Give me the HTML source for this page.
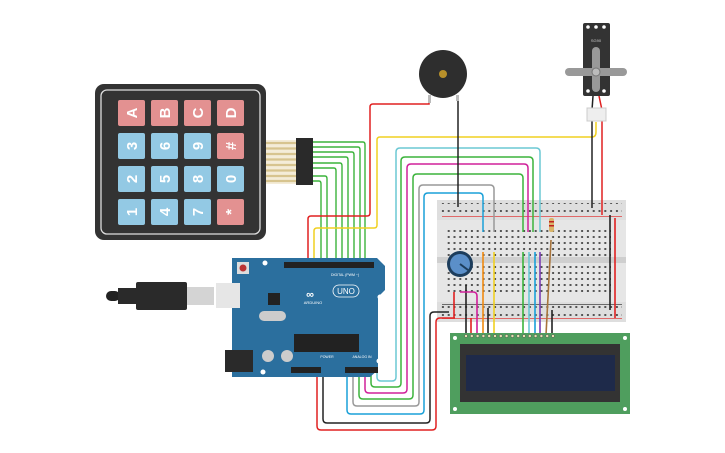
<!DOCTYPE html>
<html><head><meta charset="utf-8"><style>
html,body{margin:0;padding:0;background:#fff;width:725px;height:453px;overflow:hidden}
svg{display:block}
.k{font-family:"Liberation Sans",sans-serif;font-weight:bold;font-size:15px;fill:#fff}
</style></head><body>
<svg width="725" height="453" viewBox="0 0 725 453" xmlns="http://www.w3.org/2000/svg">
<defs>
<pattern id="h" x="440.5" y="0" width="5.8" height="6" patternUnits="userSpaceOnUse">
<rect x="1.4" y="2" width="2" height="2" fill="#555"/>
</pattern>
<pattern id="hr" x="440.5" y="0" width="5.8" height="8" patternUnits="userSpaceOnUse">
<rect x="1.4" y="2" width="2" height="2" fill="#555"/>
</pattern>
</defs>

<!-- Keypad -->
<rect x="95" y="84" width="171" height="156" rx="9" fill="#333"/>
<rect x="101" y="90" width="159" height="144" rx="6" fill="none" stroke="#ddd" stroke-width="1.3"/>
<g>
<rect x="118" y="100" width="27" height="26" rx="2" fill="#e39191"/>
<rect x="151" y="100" width="27" height="26" rx="2" fill="#e39191"/>
<rect x="184" y="100" width="27" height="26" rx="2" fill="#e39191"/>
<rect x="217" y="100" width="27" height="26" rx="2" fill="#e39191"/>
<rect x="118" y="133" width="27" height="26" rx="2" fill="#93c9e4"/>
<rect x="151" y="133" width="27" height="26" rx="2" fill="#93c9e4"/>
<rect x="184" y="133" width="27" height="26" rx="2" fill="#93c9e4"/>
<rect x="217" y="133" width="27" height="26" rx="2" fill="#e39191"/>
<rect x="118" y="166" width="27" height="26" rx="2" fill="#93c9e4"/>
<rect x="151" y="166" width="27" height="26" rx="2" fill="#93c9e4"/>
<rect x="184" y="166" width="27" height="26" rx="2" fill="#93c9e4"/>
<rect x="217" y="166" width="27" height="26" rx="2" fill="#93c9e4"/>
<rect x="118" y="199" width="27" height="26" rx="2" fill="#93c9e4"/>
<rect x="151" y="199" width="27" height="26" rx="2" fill="#93c9e4"/>
<rect x="184" y="199" width="27" height="26" rx="2" fill="#93c9e4"/>
<rect x="217" y="199" width="27" height="26" rx="2" fill="#e39191"/>
</g>
<g class="k" text-anchor="middle">
<text transform="translate(137,113) rotate(-90)">A</text>
<text transform="translate(170,113) rotate(-90)">B</text>
<text transform="translate(203,113) rotate(-90)">C</text>
<text transform="translate(236,113) rotate(-90)">D</text>
<text transform="translate(137,146) rotate(-90)">3</text>
<text transform="translate(170,146) rotate(-90)">6</text>
<text transform="translate(203,146) rotate(-90)">9</text>
<text transform="translate(236,146) rotate(-90)">#</text>
<text transform="translate(137,179) rotate(-90)">2</text>
<text transform="translate(170,179) rotate(-90)">5</text>
<text transform="translate(203,179) rotate(-90)">8</text>
<text transform="translate(236,179) rotate(-90)">0</text>
<text transform="translate(137,212) rotate(-90)">1</text>
<text transform="translate(170,212) rotate(-90)">4</text>
<text transform="translate(203,212) rotate(-90)">7</text>
<text transform="translate(236,212) rotate(-90)">*</text>
</g>
<!-- ribbon -->
<rect x="266" y="140" width="31" height="44" fill="#f4ecd8"/>
<g stroke="#d7c48f" stroke-width="2.2">
<line x1="266" y1="143" x2="297" y2="143"/><line x1="266" y1="148.5" x2="297" y2="148.5"/>
<line x1="266" y1="154" x2="297" y2="154"/><line x1="266" y1="159.5" x2="297" y2="159.5"/>
<line x1="266" y1="165" x2="297" y2="165"/><line x1="266" y1="170.5" x2="297" y2="170.5"/>
<line x1="266" y1="176" x2="297" y2="176"/><line x1="266" y1="181" x2="297" y2="181"/>
</g>
<rect x="296" y="138" width="17" height="47" fill="#2a2a2a"/>

<!-- keypad green wires -->
<g fill="none" stroke="#3cb43c" stroke-width="1.4" stroke-linejoin="round">
<path d="M313 142 H363 Q365 142 365 145 V262"/>
<path d="M313 147 H358 Q360 147 360 150 V262"/>
<path d="M313 152 H352 Q354 152 354 155 V262"/>
<path d="M313 157 H346 Q348 157 348 160 V262"/>
<path d="M313 163 H340 Q342 163 342 166 V262"/>
<path d="M313 168 H334 Q336 168 336 171 V262"/>
<path d="M313 176 H325 Q327 176 327 179 V262"/>
<path d="M313 181 H319 Q321 181 321 184 V262"/>
</g>
<!-- red buzzer wire -->
<path d="M308 262 V219 Q308 216 311 216 H367 Q370 216 370 213 V107 Q370 104 373 104 H429 V95" fill="none" stroke="#e02020" stroke-width="1.5"/>
<!-- yellow servo wire -->
<path d="M314 262 V231 Q314 228 317 228 H374 Q377 228 377 225 V140 Q377 137 380 137 H592 Q596 137 596 132 V122" fill="none" stroke="#f0d020" stroke-width="1.5"/>

<!-- breadboard -->
<rect x="437" y="200" width="189" height="122" fill="#e6e6e6"/>
<rect x="437" y="200" width="189" height="20" fill="#dedede"/>
<rect x="437" y="302" width="189" height="20" fill="#dedede"/>
<rect x="437" y="257" width="189" height="6" fill="#cfcfcf"/>
<rect x="440" y="203" width="182" height="12" fill="url(#hr)"/>
<line x1="442" y1="216.5" x2="622" y2="216.5" stroke="#e04040" stroke-width="0.8"/>
<line x1="442" y1="304.5" x2="622" y2="304.5" stroke="#444" stroke-width="0.8"/>
<rect x="440" y="306" width="182" height="12" fill="url(#hr)"/>
<line x1="442" y1="318.5" x2="622" y2="318.5" stroke="#e04040" stroke-width="0.8"/>
<rect x="446" y="226" width="165" height="30" fill="url(#h)"/>
<rect x="446" y="264" width="165" height="30" fill="url(#h)"/>

<!-- arduino analog wires -->
<g fill="none" stroke-width="1.5" stroke-linejoin="round">
<path d="M347 372 V410 Q347 414 351 414 H420 Q424 414 424 410 V197 Q424 193 428 193 H479 Q483 193 483 197 V232" stroke="#1aa0d8"/>
<path d="M353 372 V402 Q353 406 357 406 H415 Q419 406 419 402 V189 Q419 185 423 185 H490 Q494 185 494 189 V232" stroke="#999"/>
<path d="M359 372 V395 Q359 399 363 399 H409 Q413 399 413 395 V178 Q413 174 417 174 H519 Q523 174 523 178 V232" stroke="#3cb43c"/>
<path d="M365 372 V389 Q365 393 369 393 H403 Q407 393 407 389 V168 Q407 164 411 164 H524 Q528 164 528 168 V232" stroke="#d0209a"/>
<path d="M371 372 V383 Q371 387 375 387 H397 Q401 387 401 383 V161 Q401 157 405 157 H529 Q533 157 533 161 V232" stroke="#3cb43c"/>
<path d="M377 372 V377 Q377 381 381 381 H392 Q396 381 396 377 V152 Q396 148 400 148 H536 Q540 148 540 152 V232" stroke="#6cc8d4"/>
<path d="M323 372 V419 Q323 423 327 423 H426 Q430 423 430 419 V316 Q430 312 434 312 H449" stroke="#222"/>
<path d="M317 372 V426 Q317 430 321 430 H432 Q436 430 436 426 V322 Q436 318 440 318 H455" stroke="#e02020"/>
</g>

<!-- buzzer -->
<line x1="458" y1="95" x2="458" y2="207" stroke="#222" stroke-width="1.5"/>
<circle cx="443" cy="74" r="24" fill="#2e2e2e"/>
<circle cx="443" cy="74" r="4" fill="#b8902a"/>
<rect x="428" y="95" width="3" height="8" fill="#bbb"/><rect x="456" y="95" width="3" height="6" fill="#bbb"/>

<!-- servo -->
<line x1="592" y1="118" x2="592" y2="208" stroke="#222" stroke-width="1.5"/>
<line x1="602" y1="118" x2="602" y2="215" stroke="#e02020" stroke-width="1.5"/>
<line x1="593" y1="96" x2="592" y2="110" stroke="#222" stroke-width="1.5"/>
<line x1="599" y1="96" x2="602" y2="110" stroke="#e02020" stroke-width="1.5"/>
<rect x="587" y="108" width="19" height="13" fill="#eee" stroke="#ccc"/>
<rect x="583" y="23" width="27" height="73" rx="2" fill="#333"/>
<circle cx="588" cy="27" r="1.8" fill="#fff"/><circle cx="596" cy="27" r="1.8" fill="#fff"/><circle cx="604" cy="27" r="1.8" fill="#fff"/>
<circle cx="588" cy="91" r="1.8" fill="#fff"/><circle cx="604" cy="91" r="1.8" fill="#fff"/>
<text x="596" y="42" font-family="Liberation Sans,sans-serif" font-size="4" fill="#ccc" text-anchor="middle">SG90</text>
<rect x="565" y="68" width="62" height="8" rx="4" fill="#999"/>
<rect x="592" y="47" width="8" height="45" rx="4" fill="#999"/>
<circle cx="596" cy="72" r="4" fill="#bbb" stroke="#777"/>

<!-- breadboard wires -->
<g stroke-width="1.6">
<line x1="610" y1="215" x2="610" y2="310" stroke="#222"/>
<line x1="615" y1="218" x2="615" y2="318" stroke="#e02020"/>
<line x1="483" y1="252" x2="483" y2="335" stroke="#f08a10"/>
<line x1="494" y1="252" x2="494" y2="335" stroke="#f0d020"/>
<line x1="523" y1="252" x2="523" y2="335" stroke="#3cb43c"/>
<line x1="529" y1="252" x2="529" y2="335" stroke="#6cc8d4"/>
<line x1="535" y1="252" x2="535" y2="335" stroke="#1aa0d8"/>
<line x1="540" y1="252" x2="540" y2="335" stroke="#7a3cb4"/>
<line x1="551" y1="240" x2="546" y2="335" stroke="#a8743c"/>
<line x1="552" y1="310" x2="552" y2="335" stroke="#222"/>
<line x1="466" y1="285" x2="466" y2="335" stroke="#222"/>
<line x1="471" y1="318" x2="471" y2="335" stroke="#e02020"/>
<line x1="488" y1="308" x2="488" y2="335" stroke="#222"/>
<line x1="454" y1="292" x2="454" y2="318" stroke="#e02020"/>
</g>
<path d="M460 292 H473 Q477 292 477 296 V335" fill="none" stroke="#d0209a" stroke-width="1.6"/>
<rect x="549" y="218" width="5" height="14" rx="2" fill="#d9b56a"/>
<rect x="549" y="221" width="5" height="1.5" fill="#c02020"/><rect x="549" y="225" width="5" height="1.5" fill="#c02020"/>
<!-- potentiometer -->
<circle cx="460" cy="264" r="13" fill="#1d3d5c"/>
<circle cx="460" cy="264" r="10" fill="#5b8fc9"/>
<line x1="460" y1="264" x2="468" y2="270" stroke="#1d3d5c" stroke-width="2"/>

<!-- LCD -->
<rect x="450" y="333" width="180" height="81" fill="#4f9e5e"/>
<rect x="460" y="344" width="160" height="58" fill="#333"/>
<rect x="466" y="355" width="149" height="36" fill="#1e2a4a"/>
<circle cx="455" cy="338" r="2" fill="#fff"/><circle cx="625" cy="338" r="2" fill="#fff"/>
<circle cx="455" cy="409" r="2" fill="#fff"/><circle cx="625" cy="409" r="2" fill="#fff"/>
<g fill="#e8e0b0" stroke="#555" stroke-width="0.5">
<circle cx="466" cy="336" r="1.5"/><circle cx="471.8" cy="336" r="1.5"/><circle cx="477.6" cy="336" r="1.5"/><circle cx="483.4" cy="336" r="1.5"/>
<circle cx="489.2" cy="336" r="1.5"/><circle cx="495" cy="336" r="1.5"/><circle cx="500.8" cy="336" r="1.5"/><circle cx="506.6" cy="336" r="1.5"/>
<circle cx="512.4" cy="336" r="1.5"/><circle cx="518.2" cy="336" r="1.5"/><circle cx="524" cy="336" r="1.5"/><circle cx="529.8" cy="336" r="1.5"/>
<circle cx="535.6" cy="336" r="1.5"/><circle cx="541.4" cy="336" r="1.5"/><circle cx="547.2" cy="336" r="1.5"/><circle cx="553" cy="336" r="1.5"/>
</g>

<!-- USB cable -->
<rect x="106" y="291" width="14" height="10" rx="5" fill="#222"/>
<rect x="118" y="288" width="18" height="16" fill="#2a2a2a"/>
<rect x="136" y="282" width="51" height="28" rx="2" fill="#2a2a2a"/>
<rect x="187" y="287" width="27" height="18" fill="#d4d4d4"/>
<rect x="216" y="283" width="24" height="25" fill="#e6e6e6"/>

<!-- Arduino -->
<path d="M232 258 H377 L385 266 V290 L378 297 V370 L370 377 H232 Z" fill="#2b6f9e"/>
<rect x="216" y="283" width="24" height="25" fill="#e6e6e6"/>
<rect x="225" y="350" width="28" height="22" fill="#2a2a2a"/>
<rect x="237" y="262" width="12" height="12" fill="#ddd"/><circle cx="243" cy="268" r="3.5" fill="#b33"/>
<rect x="284" y="262" width="90" height="6" fill="#222"/>
<rect x="291" y="367" width="30" height="6" fill="#222"/>
<rect x="345" y="367" width="33" height="6" fill="#222"/>
<rect x="294" y="334" width="65" height="18" fill="#222"/>
<rect x="268" y="293" width="12" height="12" fill="#222"/>
<rect x="259" y="311" width="27" height="10" rx="5" fill="#ccc"/>
<circle cx="268" cy="356" r="6" fill="#ccc"/><circle cx="287" cy="356" r="6" fill="#ccc"/>
<circle cx="265" cy="263" r="2.5" fill="#fff"/><circle cx="380" cy="297" r="2.5" fill="#fff"/><circle cx="379" cy="361" r="2.5" fill="#fff"/><circle cx="263" cy="372" r="2.5" fill="#fff"/>
<text x="310" y="298" font-family="Liberation Sans,sans-serif" font-size="11" font-weight="bold" fill="#fff" text-anchor="middle">∞</text>
<rect x="333" y="285" width="26" height="12" rx="6" fill="none" stroke="#fff" stroke-width="0.8"/>
<text x="346" y="294" font-family="Liberation Sans,sans-serif" font-size="8" fill="#fff" text-anchor="middle">UNO</text>
<text x="313" y="304" font-family="Liberation Sans,sans-serif" font-size="4" fill="#fff" text-anchor="middle">ARDUINO</text>
<text x="345" y="276" font-family="Liberation Sans,sans-serif" font-size="3.5" fill="#fff" text-anchor="middle">DIGITAL (PWM ~)</text>
<text x="327" y="358" font-family="Liberation Sans,sans-serif" font-size="3.5" fill="#fff" text-anchor="middle">POWER</text>
<text x="362" y="358" font-family="Liberation Sans,sans-serif" font-size="3.5" fill="#fff" text-anchor="middle">ANALOG IN</text>
</svg>
</body></html>
